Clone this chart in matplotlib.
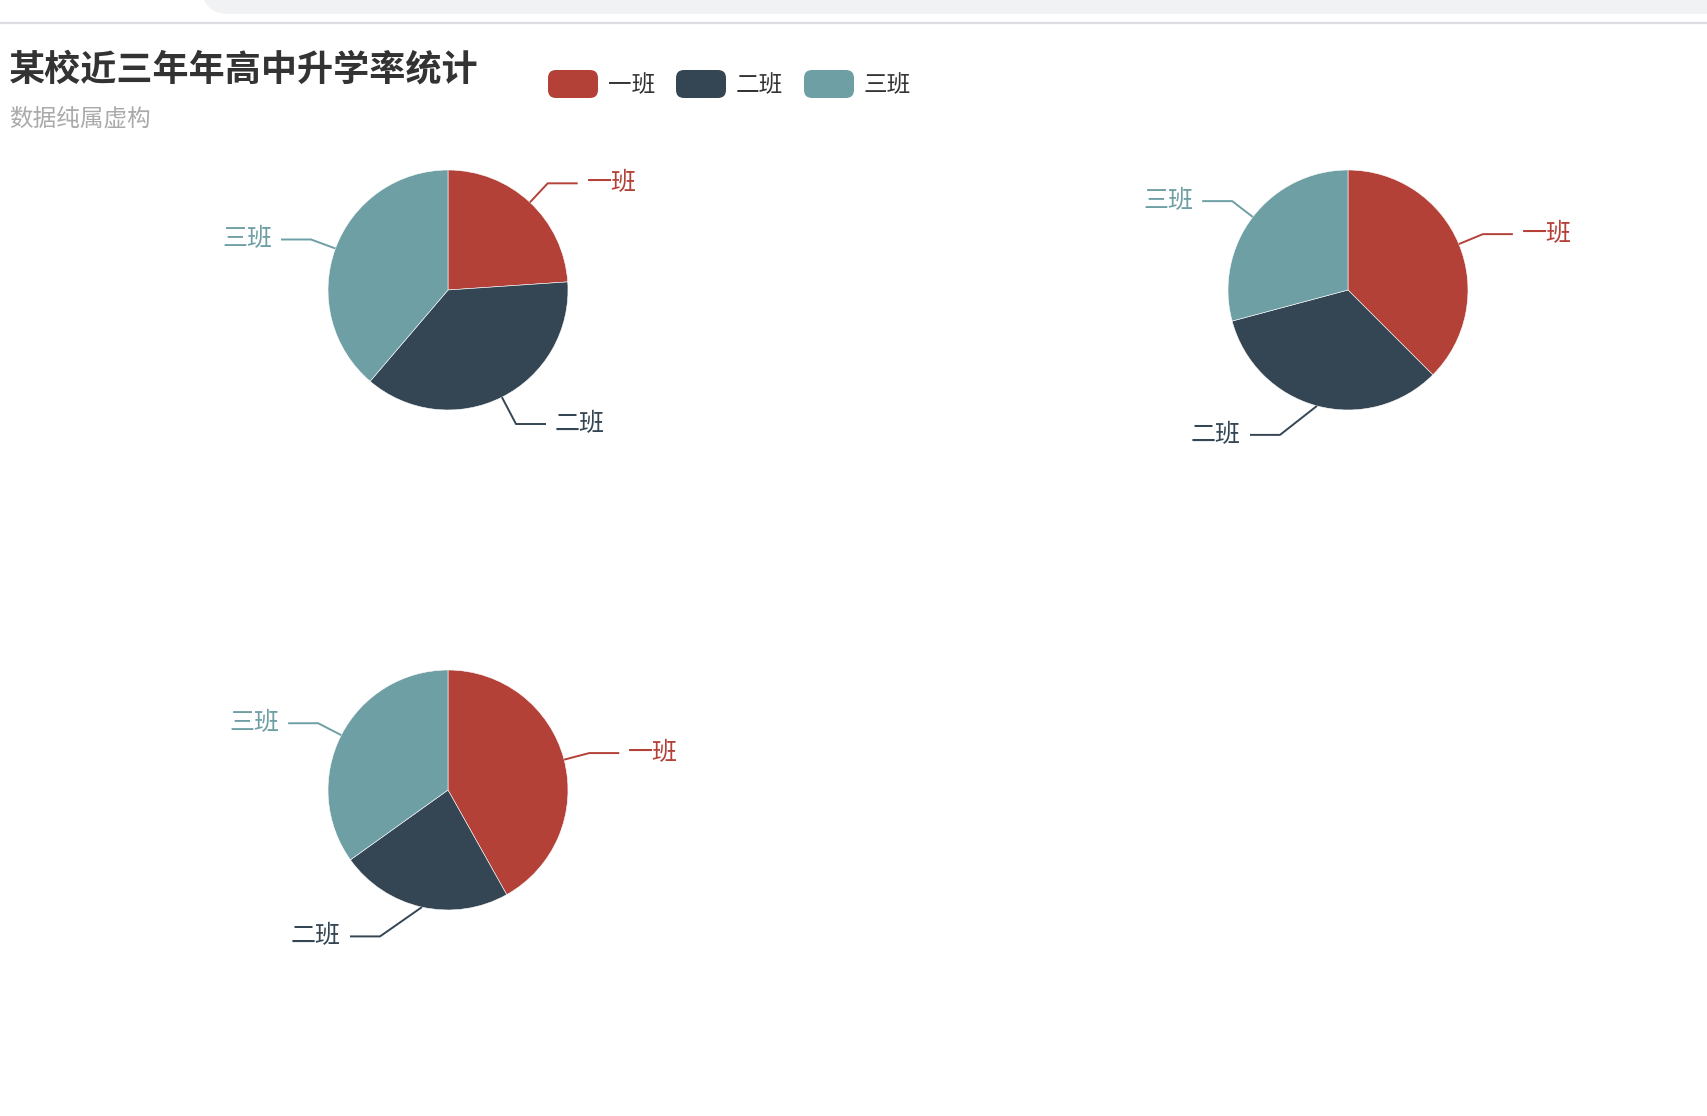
import numpy as np
import matplotlib.pyplot as plt
from matplotlib.patches import FancyBboxPatch

plt.rcParams['font.family'] = ['Noto Sans CJK SC', 'DejaVu Sans']

title = '某校近三年年高中升学率统计'
subtitle = '数据纯属虚构'
classes = ['一班', '二班', '三班']
colors = ['#b44138', '#344654', '#6e9fa5']
rate_1 = [50, 78, 81]
rate_2 = [90, 80, 70]
rate_3 = [90, 50, 75]

W, H = 1708, 1116
fig = plt.figure(figsize=(W / 100, H / 100), dpi=100)
ax = fig.add_axes([0, 0, 1, 1])


def Y(y):
    # pixel row from top -> data y (y axis points up)
    return H - y


R = 120
centers = [(448, 290), (1348, 290), (448, 790)]
for vals, (cx, cy) in zip([rate_1, rate_2, rate_3], centers):
    wedges, _ = ax.pie(vals, colors=colors, startangle=90, counterclock=False,
                       radius=R, center=(cx, Y(cy)),
                       wedgeprops=dict(edgecolor='white', linewidth=0.4))
    for w, name, c in zip(wedges, classes, colors):
        mid = np.deg2rad((w.theta1 + w.theta2) / 2)
        ux, uy = np.cos(mid), np.sin(mid)
        d = 1 if ux >= 0 else -1
        r2 = R + 26 if uy > 0 else R + 30
        ex, ey = r2 * ux, r2 * uy
        if abs(ex) < 68:
            ex = d * 68
        xs = [cx + R * ux, cx + ex, cx + ex + d * 30]
        ys = [Y(cy) + R * uy, Y(cy) + ey, Y(cy) + ey]
        ax.plot(xs, ys, color=c, lw=1.4, solid_capstyle='butt')
        ax.text(xs[2] + d * 9, ys[2], name, color=c, fontsize=18,
                ha='left' if d > 0 else 'right', va='center')

ax.set_xlim(0, W)
ax.set_ylim(0, H)
ax.set_aspect('equal')
ax.axis('off')

# browser chrome at the top
ax.add_patch(FancyBboxPatch((202, Y(14)), 1700, 80,
                            boxstyle='round,pad=0,rounding_size=27',
                            fc='#f1f2f4', ec='none'))
ax.axhline(Y(23), color='#dcdce0', lw=1.6)

ax.text(9, Y(70), title, fontsize=26, fontweight='bold', color='#333333', va='center')
ax.text(9, Y(119), subtitle, fontsize=17, color='#aaaaaa', va='center')

# legend
lx = 548
for name, c in zip(classes, colors):
    ax.add_patch(FancyBboxPatch((lx, Y(98)), 50, 28,
                                boxstyle='round,pad=0,rounding_size=8',
                                fc=c, ec='none'))
    ax.text(lx + 60, Y(86), name, fontsize=17, color='#333333', va='center')
    lx += 128

fig.savefig('out.png', dpi=100)
